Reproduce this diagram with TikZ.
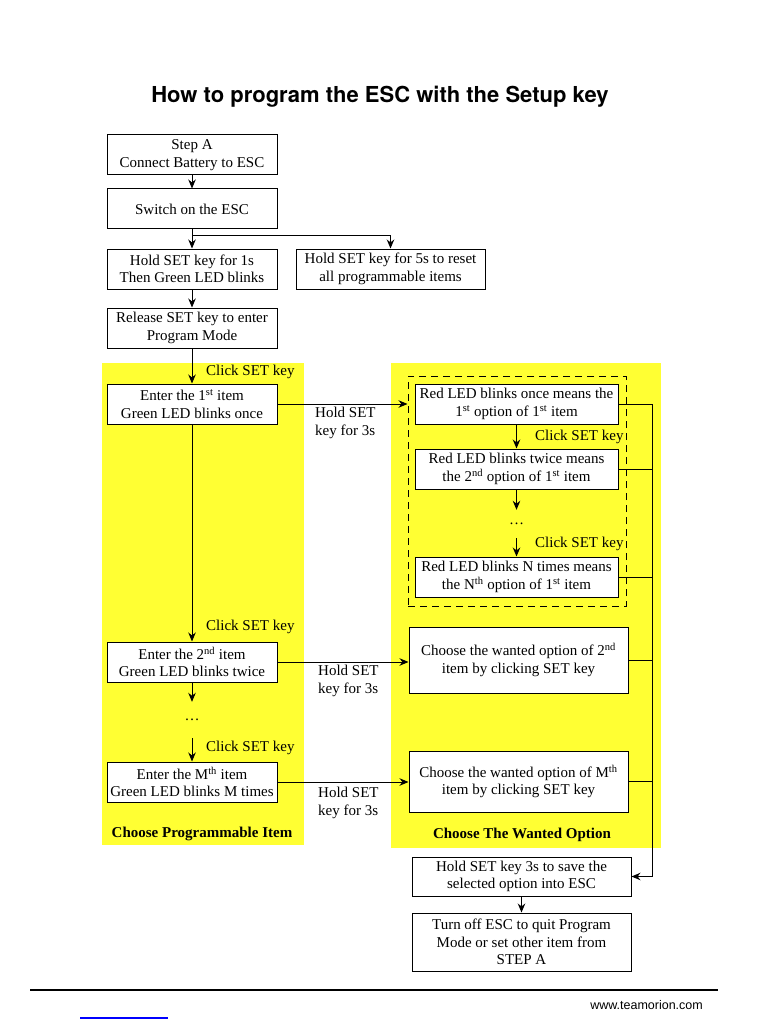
\documentclass[tikz,border=0pt]{standalone}
\usepackage{fontspec}
\setmainfont{Liberation Serif}
\newfontfamily\titlefont{TeX Gyre Heros}
\newfontfamily\webfont{Liberation Sans}
\usetikzlibrary{arrows.meta}
\definecolor{panelyellow}{RGB}{255,255,51}

\begin{document}
\begin{tikzpicture}[
    x=1pt, y=-1pt,
    >={Stealth[length=9pt,width=7.5pt]},
    font=\fontsize{15}{17.5}\selectfont,
    every node/.style={align=center},
    stepbox/.style={rectangle, draw, fill=white, line width=1pt, inner sep=0pt, minimum width=170pt, minimum height=40pt},
    optbox/.style={stepbox, minimum width=203pt},
    widebox/.style={stepbox, minimum width=219pt},
    panel/.style={fill=panelyellow, inner sep=0pt},
    dots/.style={inner sep=0pt, minimum width=20pt},
    lbl/.style={inner sep=0pt, anchor=west, align=left},
    line/.style={->, line width=1pt}
]
\useasboundingbox (0,0) rectangle (768,1024);

% yellow panels
\node[panel, minimum width=202pt, minimum height=482pt] (itempanel) at (203,604) {};
\node[panel, minimum width=270pt, minimum height=485pt] (optionpanel) at (526,605.5) {};
\node[draw, dash pattern=on 7pt off 5pt, line width=1pt, inner sep=0pt, minimum width=218pt, minimum height=230pt] (optframe) at (517,491) {};

\node[font=\titlefont\bfseries\fontsize{22}{26}\selectfont] (title) at (380,97) {How to program the ESC with the Setup key};

\node[stepbox] (stepA) at (192,155) {Step A\\Connect Battery to ESC};
\node[stepbox] (switchon) at (192,209) {Switch on the ESC};
\node[stepbox] (hold1s) at (192,269) {Hold SET key for 1s\\Then Green LED blinks};
\node[stepbox, minimum width=189pt] (hold5s) at (390.5,269) {Hold SET key for 5s to reset\\all programmable items};
\node[stepbox] (release) at (192,328) {Release SET key to enter\\Program Mode};

\node[stepbox] (item1) at (192,404) {Enter the 1\textsuperscript{st} item\\Green LED blinks once};
\node[stepbox] (item2) at (192,662) {Enter the 2\textsuperscript{nd} item\\Green LED blinks twice};
\node[dots, minimum height=36pt] (dotsL) at (192,720) {\dots};
\node[stepbox] (itemM) at (192,782) {Enter the M\textsuperscript{th} item\\Green LED blinks M times};

\node[optbox] (opt1) at (516.5,404) {Red LED blinks once means the\\1\textsuperscript{st} option of 1\textsuperscript{st} item};
\node[optbox] (opt2) at (516.5,469) {Red LED blinks twice means\\the 2\textsuperscript{nd} option of 1\textsuperscript{st} item};
\node[dots, minimum height=28pt] (dotsR) at (516.5,524) {\dots};
\node[optbox] (optN) at (516.5,577) {Red LED blinks N times means\\the N\textsuperscript{th} option of 1\textsuperscript{st} item};

\node[widebox, minimum height=66pt] (choose2) at (518.5,660) {Choose the wanted option of 2\textsuperscript{nd}\\item by clicking SET key};
\node[widebox, minimum height=61pt] (chooseM) at (518.5,781.5) {Choose the wanted option of M\textsuperscript{th}\\item by clicking SET key};

\node[widebox, minimum height=39pt] (save) at (521.5,876.5) {Hold SET key 3s to save the\\selected option into ESC};
\node[widebox, minimum height=58pt] (turnoff) at (521.5,942) {Turn off ESC to quit Program\\Mode or set other item from\\STEP A};

% labels
\node[lbl] (click1) at (206,372) {Click SET key};
\node[lbl] (click2) at (206,627) {Click SET key};
\node[lbl] (clickM) at (206,748) {Click SET key};
\node[lbl] (clickR2) at (535,437) {Click SET key};
\node[lbl] (clickRN) at (535,544) {Click SET key};
\node[lbl] (hold1) at (315,423) {Hold SET\\key for 3s};
\node[lbl] (hold2) at (318,681) {Hold SET\\key for 3s};
\node[lbl] (holdM) at (318,803) {Hold SET\\key for 3s};
\node[font=\bfseries\fontsize{15}{17.5}\selectfont] (itemtitle) at (202,834) {Choose Programmable Item};
\node[font=\bfseries\fontsize{15}{17.5}\selectfont] (optiontitle) at (522,835) {Choose The Wanted Option};

% connectors
\coordinate (split) at (192,235);
\coordinate (bus) at (652,876.5);
\draw[line] (stepA) -- (switchon);
\draw[line] (switchon) -- (hold1s);
\draw[line] (split) -| (hold5s);
\draw[line] (hold1s) -- (release);
\draw[line] (release) -- (item1);
\draw[line] (item1) -- (item2);
\draw[line] (item2) -- (dotsL);
\draw[line] (dotsL) -- (itemM);
\draw[line] (item1.east) -- (item1.east -| optframe.west);
\draw[line] (item2.east) -- (item2.east -| choose2.west);
\draw[line] (itemM.east) -- (itemM.east -| chooseM.west);
\draw[line] (opt1) -- (opt2);
\draw[line] (opt2) -- (dotsR);
\draw[line] (dotsR) -- (optN);
\draw[line] (opt1.east) -| (bus) -- (save);
\draw[line width=1pt] (opt2.east) -- (opt2.east -| bus);
\draw[line width=1pt] (optN.east) -- (optN.east -| bus);
\draw[line width=1pt] (choose2.east) -- (choose2.east -| bus);
\draw[line width=1pt] (chooseM.east) -- (chooseM.east -| bus);
\draw[line] (save) -- (turnoff);

% footer
\draw[line width=1.2pt] (30,990) -- (718,990);
\node[font=\webfont\fontsize{12.5}{15}\selectfont, anchor=east, inner sep=0pt] (web) at (703,1005) {www.teamorion.com};
\draw[blue, line width=1.2pt] (80,1018) -- (168,1018);
\end{tikzpicture}
\end{document}
